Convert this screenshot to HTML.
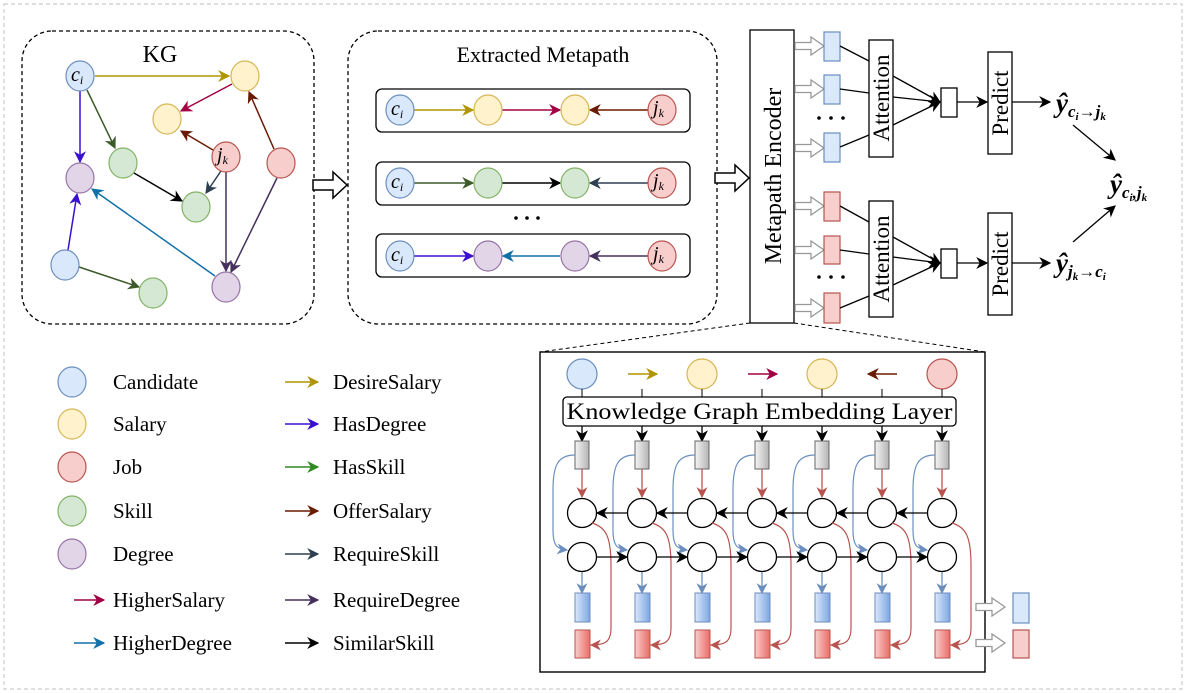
<!DOCTYPE html>
<html><head><meta charset="utf-8"><style>
html,body{margin:0;padding:0;background:#fff}
svg{display:block;font-family:"Liberation Serif",serif}
</style></head><body>
<svg width="1186" height="693" viewBox="0 0 1186 693" xmlns="http://www.w3.org/2000/svg">
<defs>
<marker id="mk" viewBox="0 0 10 10" refX="9" refY="5" markerWidth="12" markerHeight="12" markerUnits="userSpaceOnUse" orient="auto"><path d="M0,0 L10,5 L0,10 L3,5z" fill="#000"/></marker>
<marker id="mol" viewBox="0 0 10 10" refX="9" refY="5" markerWidth="12" markerHeight="12" markerUnits="userSpaceOnUse" orient="auto"><path d="M0,0 L10,5 L0,10 L3,5z" fill="#b09500"/></marker>
<marker id="mcr" viewBox="0 0 10 10" refX="9" refY="5" markerWidth="12" markerHeight="12" markerUnits="userSpaceOnUse" orient="auto"><path d="M0,0 L10,5 L0,10 L3,5z" fill="#a20045"/></marker>
<marker id="mbr" viewBox="0 0 10 10" refX="9" refY="5" markerWidth="12" markerHeight="12" markerUnits="userSpaceOnUse" orient="auto"><path d="M0,0 L10,5 L0,10 L3,5z" fill="#6a1a00"/></marker>
<marker id="mvi" viewBox="0 0 10 10" refX="9" refY="5" markerWidth="12" markerHeight="12" markerUnits="userSpaceOnUse" orient="auto"><path d="M0,0 L10,5 L0,10 L3,5z" fill="#3a10d0"/></marker>
<marker id="mgr" viewBox="0 0 10 10" refX="9" refY="5" markerWidth="12" markerHeight="12" markerUnits="userSpaceOnUse" orient="auto"><path d="M0,0 L10,5 L0,10 L3,5z" fill="#2f8a1f"/></marker>
<marker id="mdg" viewBox="0 0 10 10" refX="9" refY="5" markerWidth="12" markerHeight="12" markerUnits="userSpaceOnUse" orient="auto"><path d="M0,0 L10,5 L0,10 L3,5z" fill="#3d5a2a"/></marker>
<marker id="msl" viewBox="0 0 10 10" refX="9" refY="5" markerWidth="12" markerHeight="12" markerUnits="userSpaceOnUse" orient="auto"><path d="M0,0 L10,5 L0,10 L3,5z" fill="#2e3f50"/></marker>
<marker id="mpu" viewBox="0 0 10 10" refX="9" refY="5" markerWidth="12" markerHeight="12" markerUnits="userSpaceOnUse" orient="auto"><path d="M0,0 L10,5 L0,10 L3,5z" fill="#45305e"/></marker>
<marker id="mte" viewBox="0 0 10 10" refX="9" refY="5" markerWidth="12" markerHeight="12" markerUnits="userSpaceOnUse" orient="auto"><path d="M0,0 L10,5 L0,10 L3,5z" fill="#1070a8"/></marker>
<marker id="mrd" viewBox="0 0 10 10" refX="9" refY="5" markerWidth="11" markerHeight="11" markerUnits="userSpaceOnUse" orient="auto"><path d="M0,0 L10,5 L0,10 L3,5z" fill="#b85450"/></marker>
<marker id="mbl" viewBox="0 0 10 10" refX="9" refY="5" markerWidth="11" markerHeight="11" markerUnits="userSpaceOnUse" orient="auto"><path d="M0,0 L10,5 L0,10 L3,5z" fill="#6c8ebf"/></marker>
<linearGradient id="gb" x1="0" y1="0" x2="1" y2="0"><stop offset="0" stop-color="#dae8fc"/><stop offset="1" stop-color="#7ea6e0"/></linearGradient>
<linearGradient id="gr" x1="0" y1="0" x2="1" y2="0"><stop offset="0" stop-color="#f8cecc"/><stop offset="1" stop-color="#ea6b66"/></linearGradient>
<linearGradient id="gg" x1="0" y1="0" x2="1" y2="0"><stop offset="0" stop-color="#f5f5f5"/><stop offset="1" stop-color="#b3b3b3"/></linearGradient>
<g id="hol"><path d="M0,-3.5 L16,-3.5 L16,-9 L29,0 L16,9 L16,3.5 L0,3.5z" fill="#fff" stroke="#999" stroke-width="1.3"/></g>
<g id="big"><path d="M0,-5 L20,-5 L20,-13 L34,0 L20,13 L20,5 L0,5z" fill="#fff" stroke="#000" stroke-width="1.5"/></g>
</defs>

<rect x="4" y="4" width="1178" height="685" fill="none" stroke="#ccc" stroke-width="1.2" stroke-dasharray="4,3"/>

<!-- KG box -->
<rect x="22" y="31" width="292" height="293" rx="30" fill="none" stroke="#000" stroke-width="1.3" stroke-dasharray="4,3"/>
<text x="160" y="62" font-size="24" text-anchor="middle">KG</text>
<g stroke-width="1.5" fill="none">
<line x1="95" y1="76" x2="229" y2="76" stroke="#b09500" marker-end="url(#mol)"/>
<line x1="232" y1="84" x2="181" y2="111" stroke="#a20045" marker-end="url(#mcr)"/>
<line x1="213" y1="150" x2="181" y2="131" stroke="#6a1a00" marker-end="url(#mbr)"/>
<line x1="274" y1="149" x2="249" y2="92" stroke="#6a1a00" marker-end="url(#mbr)"/>
<line x1="80" y1="91" x2="80" y2="162" stroke="#3a10d0" marker-end="url(#mvi)"/>
<line x1="87" y1="90" x2="115" y2="148" stroke="#3d5a2a" marker-end="url(#mdg)"/>
<line x1="134" y1="173" x2="182" y2="201" stroke="#000" marker-end="url(#mk)"/>
<line x1="221" y1="171" x2="206" y2="193" stroke="#2e3f50" marker-end="url(#msl)"/>
<line x1="226" y1="172" x2="226" y2="271" stroke="#45305e" marker-end="url(#mpu)"/>
<line x1="277" y1="178" x2="231" y2="272" stroke="#45305e" marker-end="url(#mpu)"/>
<line x1="215" y1="276" x2="92" y2="189" stroke="#1070a8" marker-end="url(#mte)"/>
<line x1="68" y1="250" x2="77" y2="194" stroke="#3a10d0" marker-end="url(#mvi)"/>
<line x1="79" y1="267" x2="139" y2="287" stroke="#3d5a2a" marker-end="url(#mdg)"/>
</g>
<g stroke-width="1.2">
<ellipse cx="80" cy="76" rx="14" ry="15" fill="#dae8fc" stroke="#6c8ebf"/>
<ellipse cx="245" cy="76" rx="14" ry="15" fill="#fff2cc" stroke="#d6b656"/>
<ellipse cx="167" cy="119" rx="14" ry="15" fill="#fff2cc" stroke="#d6b656"/>
<ellipse cx="226" cy="157" rx="14" ry="15" fill="#f8cecc" stroke="#b85450"/>
<ellipse cx="281" cy="163" rx="14" ry="15" fill="#f8cecc" stroke="#b85450"/>
<ellipse cx="123" cy="163" rx="14" ry="15" fill="#d5e8d4" stroke="#82b366"/>
<ellipse cx="80" cy="178" rx="14" ry="15" fill="#e1d5e7" stroke="#9673a6"/>
<ellipse cx="196" cy="207" rx="14" ry="15" fill="#d5e8d4" stroke="#82b366"/>
<ellipse cx="65" cy="265" rx="14" ry="15" fill="#dae8fc" stroke="#6c8ebf"/>
<ellipse cx="153" cy="293" rx="14" ry="15" fill="#d5e8d4" stroke="#82b366"/>
<ellipse cx="226" cy="287" rx="14" ry="15" fill="#e1d5e7" stroke="#9673a6"/>
</g>
<g font-style="italic" font-size="20">
<text x="71" y="81">c<tspan font-size="12" dy="3">i</tspan></text>
<text x="217" y="161">j<tspan font-size="12" dy="3">k</tspan></text>
</g>

<use href="#big" x="313" y="185"/>

<!-- Extracted Metapath -->
<rect x="348" y="31" width="369" height="293" rx="30" fill="none" stroke="#000" stroke-width="1.3" stroke-dasharray="4,3"/>
<text x="543" y="62" font-size="22" text-anchor="middle">Extracted Metapath</text>
<g fill="none" stroke="#000" stroke-width="1.3">
<rect x="376" y="89" width="314" height="43" rx="6"/>
<rect x="376" y="162" width="314" height="43" rx="6"/>
<rect x="376" y="234" width="314" height="43" rx="6"/>
</g>
<g stroke-width="1.5">
<line x1="414" y1="110" x2="473" y2="110" stroke="#b09500" marker-end="url(#mol)"/>
<line x1="502" y1="110" x2="560" y2="110" stroke="#a20045" marker-end="url(#mcr)"/>
<line x1="648" y1="110" x2="590" y2="110" stroke="#6a1a00" marker-end="url(#mbr)"/>
<line x1="414" y1="183" x2="473" y2="183" stroke="#3d5a2a" marker-end="url(#mdg)"/>
<line x1="502" y1="183" x2="560" y2="183" stroke="#000" marker-end="url(#mk)"/>
<line x1="648" y1="183" x2="590" y2="183" stroke="#2e3f50" marker-end="url(#msl)"/>
<line x1="414" y1="256" x2="473" y2="256" stroke="#3a10d0" marker-end="url(#mvi)"/>
<line x1="560" y1="256" x2="503" y2="256" stroke="#1070a8" marker-end="url(#mte)"/>
<line x1="648" y1="256" x2="590" y2="256" stroke="#45305e" marker-end="url(#mpu)"/>
</g>
<g stroke-width="1.2">
<ellipse cx="400" cy="110" rx="14" ry="15" fill="#dae8fc" stroke="#6c8ebf"/>
<ellipse cx="488" cy="110" rx="14" ry="15" fill="#fff2cc" stroke="#d6b656"/>
<ellipse cx="575" cy="110" rx="14" ry="15" fill="#fff2cc" stroke="#d6b656"/>
<ellipse cx="662" cy="110" rx="14" ry="15" fill="#f8cecc" stroke="#b85450"/>
<ellipse cx="400" cy="183" rx="14" ry="15" fill="#dae8fc" stroke="#6c8ebf"/>
<ellipse cx="488" cy="183" rx="14" ry="15" fill="#d5e8d4" stroke="#82b366"/>
<ellipse cx="575" cy="183" rx="14" ry="15" fill="#d5e8d4" stroke="#82b366"/>
<ellipse cx="662" cy="183" rx="14" ry="15" fill="#f8cecc" stroke="#b85450"/>
<ellipse cx="400" cy="256" rx="14" ry="15" fill="#dae8fc" stroke="#6c8ebf"/>
<ellipse cx="488" cy="256" rx="14" ry="15" fill="#e1d5e7" stroke="#9673a6"/>
<ellipse cx="575" cy="256" rx="14" ry="15" fill="#e1d5e7" stroke="#9673a6"/>
<ellipse cx="662" cy="256" rx="14" ry="15" fill="#f8cecc" stroke="#b85450"/>
</g>
<g font-style="italic" font-size="20">
<text x="391" y="115">c<tspan font-size="12" dy="3">i</tspan></text>
<text x="653" y="114">j<tspan font-size="12" dy="3">k</tspan></text>
<text x="391" y="188">c<tspan font-size="12" dy="3">i</tspan></text>
<text x="653" y="187">j<tspan font-size="12" dy="3">k</tspan></text>
<text x="391" y="261">c<tspan font-size="12" dy="3">i</tspan></text>
<text x="653" y="260">j<tspan font-size="12" dy="3">k</tspan></text>
</g>
<g fill="#000"><circle cx="516" cy="218" r="1.8"/><circle cx="527" cy="218" r="1.8"/><circle cx="538" cy="218" r="1.8"/></g>

<use href="#big" x="715" y="178"/>

<!-- Metapath encoder -->
<rect x="750" y="30" width="44" height="293" fill="#fff" stroke="#000" stroke-width="1.3"/>
<text transform="translate(781,176) rotate(-90)" font-size="24" text-anchor="middle">Metapath Encoder</text>
<use href="#hol" x="795" y="46"/><use href="#hol" x="795" y="89"/><use href="#hol" x="795" y="148"/>
<use href="#hol" x="795" y="206"/><use href="#hol" x="795" y="250"/><use href="#hol" x="795" y="308"/>
<g stroke-width="1.2">
<rect x="824" y="32" width="16" height="29" fill="#dae8fc" stroke="#6c8ebf"/>
<rect x="824" y="75" width="16" height="29" fill="#dae8fc" stroke="#6c8ebf"/>
<rect x="824" y="133" width="16" height="29" fill="#dae8fc" stroke="#6c8ebf"/>
<rect x="824" y="192" width="16" height="29" fill="#f8cecc" stroke="#b85450"/>
<rect x="824" y="236" width="16" height="28" fill="#f8cecc" stroke="#b85450"/>
<rect x="824" y="293" width="16" height="30" fill="#f8cecc" stroke="#b85450"/>
</g>
<g fill="#000"><circle cx="819" cy="118" r="1.8"/><circle cx="831" cy="118" r="1.8"/><circle cx="843" cy="118" r="1.8"/>
<circle cx="819" cy="277" r="1.8"/><circle cx="831" cy="277" r="1.8"/><circle cx="843" cy="277" r="1.8"/></g>
<g stroke="#000" stroke-width="1.3" fill="none">
<line x1="840" y1="46" x2="869" y2="61"/><line x1="840" y1="89" x2="869" y2="93"/><line x1="840" y1="147" x2="869" y2="135"/>
<line x1="840" y1="206" x2="869" y2="222"/><line x1="840" y1="250" x2="869" y2="254"/><line x1="840" y1="308" x2="869" y2="296"/>
<line x1="893" y1="76" x2="940" y2="102" marker-end="url(#mk)"/><line x1="893" y1="97" x2="940" y2="102" marker-end="url(#mk)"/><line x1="893" y1="125" x2="940" y2="102" marker-end="url(#mk)"/>
<line x1="893" y1="237" x2="940" y2="263" marker-end="url(#mk)"/><line x1="893" y1="257" x2="940" y2="263" marker-end="url(#mk)"/><line x1="893" y1="285" x2="940" y2="263" marker-end="url(#mk)"/>
<line x1="957" y1="102" x2="987" y2="102" marker-end="url(#mk)"/><line x1="957" y1="263" x2="987" y2="263" marker-end="url(#mk)"/>
<line x1="1012" y1="102" x2="1050" y2="102" marker-end="url(#mk)"/><line x1="1012" y1="263" x2="1050" y2="263" marker-end="url(#mk)"/>
<line x1="1073" y1="125" x2="1115" y2="160" marker-end="url(#mk)"/><line x1="1073" y1="242" x2="1115" y2="206" marker-end="url(#mk)"/>
</g>
<g fill="#fff" stroke="#000" stroke-width="1.3">
<rect x="869" y="40" width="24" height="117"/><rect x="869" y="201" width="24" height="116"/>
<rect x="941" y="88" width="16" height="29"/><rect x="941" y="249" width="16" height="29"/>
<rect x="988" y="52" width="24" height="102"/><rect x="988" y="213" width="24" height="102"/>
</g>
<text transform="translate(889,98) rotate(-90)" font-size="23" text-anchor="middle">Attention</text>
<text transform="translate(889,259) rotate(-90)" font-size="23" text-anchor="middle">Attention</text>
<text transform="translate(1008,103) rotate(-90)" font-size="23" text-anchor="middle">Predict</text>
<text transform="translate(1008,264) rotate(-90)" font-size="23" text-anchor="middle">Predict</text>
<g font-style="italic" font-weight="bold">
<text x="1056" y="112" font-size="27">ŷ<tspan font-size="17" dy="5">c<tspan font-size="11" dy="3">i</tspan><tspan dy="-3" font-weight="normal">→</tspan>j<tspan font-size="11" dy="3">k</tspan></tspan></text>
<text x="1110" y="193" font-size="27">ŷ<tspan font-size="17" dy="5">c<tspan font-size="11" dy="3">i</tspan><tspan dy="-3">,j</tspan><tspan font-size="11" dy="3">k</tspan></tspan></text>
<text x="1056" y="272" font-size="27">ŷ<tspan font-size="17" dy="5">j<tspan font-size="11" dy="3">k</tspan><tspan dy="-3" font-weight="normal">→</tspan>c<tspan font-size="11" dy="3">i</tspan></tspan></text>
</g>

<!-- zoom lines -->
<line x1="750" y1="323" x2="540" y2="352" stroke="#000" stroke-dasharray="4,3"/>
<line x1="794" y1="323" x2="985" y2="352" stroke="#000" stroke-dasharray="4,3"/>

<!-- Legend -->
<g stroke-width="1.2">
<ellipse cx="72" cy="382" rx="14" ry="15" fill="#dae8fc" stroke="#6c8ebf"/>
<ellipse cx="72" cy="424" rx="14" ry="15" fill="#fff2cc" stroke="#d6b656"/>
<ellipse cx="72" cy="467" rx="14" ry="15" fill="#f8cecc" stroke="#b85450"/>
<ellipse cx="72" cy="511" rx="14" ry="15" fill="#d5e8d4" stroke="#82b366"/>
<ellipse cx="72" cy="554" rx="14" ry="15" fill="#e1d5e7" stroke="#9673a6"/>
</g>
<g stroke-width="1.6">
<line x1="74" y1="600" x2="104" y2="600" stroke="#a20045" marker-end="url(#mcr)"/>
<line x1="74" y1="643" x2="104" y2="643" stroke="#1070a8" marker-end="url(#mte)"/>
<line x1="285" y1="382" x2="318" y2="382" stroke="#b09500" marker-end="url(#mol)"/>
<line x1="285" y1="424" x2="318" y2="424" stroke="#3a10d0" marker-end="url(#mvi)"/>
<line x1="285" y1="467" x2="318" y2="467" stroke="#2f8a1f" marker-end="url(#mgr)"/>
<line x1="285" y1="511" x2="318" y2="511" stroke="#6a1a00" marker-end="url(#mbr)"/>
<line x1="285" y1="554" x2="318" y2="554" stroke="#2e3f50" marker-end="url(#msl)"/>
<line x1="285" y1="600" x2="318" y2="600" stroke="#45305e" marker-end="url(#mpu)"/>
<line x1="285" y1="643" x2="318" y2="643" stroke="#000" marker-end="url(#mk)"/>
</g>
<g font-size="21">
<text x="113" y="389">Candidate</text><text x="113" y="431">Salary</text><text x="113" y="474">Job</text>
<text x="113" y="518">Skill</text><text x="113" y="561">Degree</text><text x="113" y="607">HigherSalary</text>
<text x="113" y="650">HigherDegree</text>
<text x="333" y="389">DesireSalary</text><text x="333" y="431">HasDegree</text><text x="333" y="474">HasSkill</text>
<text x="333" y="518">OfferSalary</text><text x="333" y="561">RequireSkill</text><text x="333" y="607">RequireDegree</text>
<text x="333" y="650">SimilarSkill</text>
</g>

<!-- inner box -->
<rect x="540" y="352" width="445" height="320" fill="#fff" stroke="#000" stroke-width="1.4"/>
<g stroke-width="1.2">
<circle cx="582" cy="374" r="15" fill="#dae8fc" stroke="#6c8ebf"/>
<circle cx="702" cy="374" r="15" fill="#fff2cc" stroke="#d6b656"/>
<circle cx="822" cy="374" r="15" fill="#fff2cc" stroke="#d6b656"/>
<circle cx="942" cy="374" r="15" fill="#f8cecc" stroke="#b85450"/>
</g>
<g stroke-width="1.6">
<line x1="628" y1="374" x2="657" y2="374" stroke="#b09500" marker-end="url(#mol)"/>
<line x1="748" y1="374" x2="777" y2="374" stroke="#a20045" marker-end="url(#mcr)"/>
<line x1="897" y1="374" x2="868" y2="374" stroke="#6a1a00" marker-end="url(#mbr)"/>
</g>
<g stroke="#000" stroke-width="1">
<line x1="582" y1="389" x2="582" y2="397"/><line x1="642" y1="389" x2="642" y2="397"/><line x1="702" y1="389" x2="702" y2="397"/>
<line x1="762" y1="389" x2="762" y2="397"/><line x1="822" y1="389" x2="822" y2="397"/><line x1="882" y1="389" x2="882" y2="397"/><line x1="942" y1="389" x2="942" y2="397"/>
</g>
<rect x="563" y="397" width="393" height="29" rx="4" fill="#fff" stroke="#000" stroke-width="1.3"/>
<text x="759.5" y="419" font-size="23" text-anchor="middle" textLength="386" lengthAdjust="spacingAndGlyphs">Knowledge Graph Embedding Layer</text>

<g id="col">
<line x1="582" y1="426" x2="582" y2="441" stroke="#000" stroke-width="1.3" marker-end="url(#mk)"/>
<rect x="575" y="441" width="14" height="28" fill="url(#gg)" stroke="#666" stroke-width="1"/>
<line x1="582" y1="469" x2="582" y2="497" stroke="#b85450" stroke-width="1.3" marker-end="url(#mrd)"/>
<circle cx="582" cy="513" r="14.5" fill="#fff" stroke="#000" stroke-width="1.3"/>
<circle cx="582" cy="557" r="14.5" fill="#fff" stroke="#000" stroke-width="1.3"/>
<path d="M575,455 C558,455 553,465 553,490 L553,530 C553,547 558,549 567,550" fill="none" stroke="#6c8ebf" stroke-width="1.2" marker-end="url(#mbl)"/>
<path d="M592,523 C605,527 611,535 611,565 L611,628 C611,642 605,645 591,645" fill="none" stroke="#b85450" stroke-width="1.2" marker-end="url(#mrd)"/>
<line x1="582" y1="572" x2="582" y2="593" stroke="#6c8ebf" stroke-width="1.3" marker-end="url(#mbl)"/>
<rect x="575" y="593" width="15" height="29" fill="url(#gb)" stroke="#6c8ebf" stroke-width="1"/>
<rect x="575" y="630" width="15" height="28" fill="url(#gr)" stroke="#b85450" stroke-width="1"/>
</g>
<use href="#col" x="60"/><use href="#col" x="120"/><use href="#col" x="180"/><use href="#col" x="240"/><use href="#col" x="300"/><use href="#col" x="360"/>
<g stroke="#000" stroke-width="1.3">
<line x1="627" y1="513" x2="597" y2="513" marker-end="url(#mk)"/><line x1="687" y1="513" x2="657" y2="513" marker-end="url(#mk)"/>
<line x1="747" y1="513" x2="717" y2="513" marker-end="url(#mk)"/><line x1="807" y1="513" x2="777" y2="513" marker-end="url(#mk)"/>
<line x1="867" y1="513" x2="837" y2="513" marker-end="url(#mk)"/><line x1="927" y1="513" x2="897" y2="513" marker-end="url(#mk)"/>
<line x1="597" y1="557" x2="627" y2="557" marker-end="url(#mk)"/><line x1="657" y1="557" x2="687" y2="557" marker-end="url(#mk)"/>
<line x1="717" y1="557" x2="747" y2="557" marker-end="url(#mk)"/><line x1="777" y1="557" x2="807" y2="557" marker-end="url(#mk)"/>
<line x1="837" y1="557" x2="867" y2="557" marker-end="url(#mk)"/><line x1="897" y1="557" x2="927" y2="557" marker-end="url(#mk)"/>
</g>
<use href="#hol" x="976" y="607"/><use href="#hol" x="976" y="643"/>
<rect x="1013" y="593" width="16" height="30" fill="#dae8fc" stroke="#6c8ebf" stroke-width="1.2"/>
<rect x="1013" y="630" width="16" height="28" fill="#f8cecc" stroke="#b85450" stroke-width="1.2"/>
</svg>
</body></html>
